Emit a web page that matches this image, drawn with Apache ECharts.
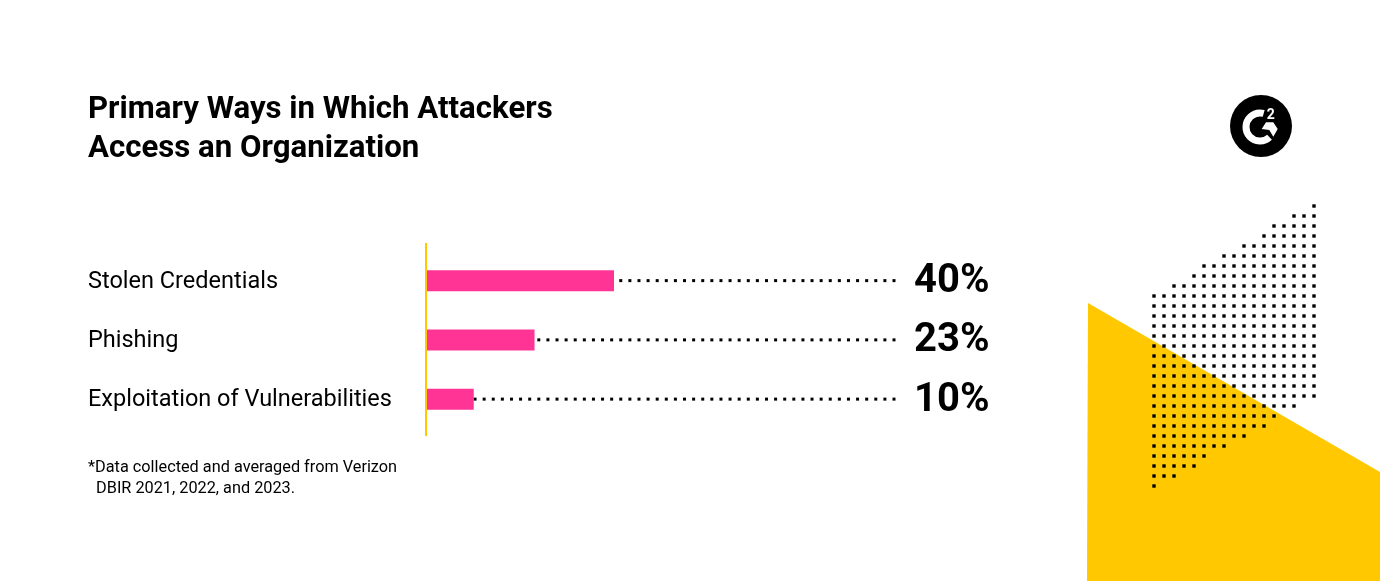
<!DOCTYPE html>
<html>
<head>
<meta charset="utf-8">
<style>
  html, body { margin: 0; padding: 0; background: #fff; }
  #main { width: 1380px; height: 581px; }
</style>
<script src="https://cdn.jsdelivr.net/npm/echarts@6/dist/echarts.min.js"></script>
</head>
<body>
<div id="main"></div>
<script>
const categories = ['Stolen Credentials', 'Phishing', 'Exploitation of Vulnerabilities']
const shares = [40, 23, 10]
const shareLabels = ['40%', '23%', '10%']
const leaderEnds = [100.5, 100.5, 100.5]

const PINK = '#ff3495'
const YELLOW = '#ffc800'
const FONT = 'Roboto'

const myChart = echarts.init(document.getElementById('main'), null, { renderer: 'canvas' })

// 背景の点: 平行四辺形の中だけ
function dotPattern () {
  const dots = []
  for (let x = 1154; x <= 1314; x += 10) {
    for (let y = 206; y <= 486; y += 10) {
      const top = 201.67 + (1314 - x) * 0.583
      const bottom = 488.67 - (x - 1154) * 0.5625
      if (y < top || y > bottom) continue
      dots.push({
        type: 'rect',
        z: 2,
        shape: { x: x - 1.7, y: y - 1.7, width: 3.4, height: 3.4 },
        style: { fill: '#000' }
      })
    }
  }
  return dots
}

const decorations = [
  {
    type: 'polygon',
    z: 1,
    shape: { points: [[1087, 581], [1088, 303], [1380, 472], [1380, 581]] },
    style: { fill: YELLOW }
  },
  ...dotPattern(),
  // 軸の線はグリッドより長い
  {
    type: 'rect',
    z: 5,
    shape: { x: 425, y: 243, width: 2, height: 193 },
    style: { fill: YELLOW }
  },
  // G2 logo
  { type: 'circle', z: 3, shape: { cx: 1261, cy: 126, r: 31 }, style: { fill: '#000' } },
  {
    type: 'arc',
    z: 4,
    shape: { cx: 1260, cy: 127, r: 14, startAngle: 0.82, endAngle: 4.98, clockwise: true },
    style: { stroke: '#fff', fill: null, lineWidth: 7 }
  },
  {
    type: 'polygon',
    z: 4,
    shape: { points: [[1261.7, 129], [1266, 122.3], [1273.3, 122.3], [1277.7, 129], [1273.3, 136.7], [1269.3, 130]] },
    style: { fill: '#fff' }
  },
  {
    type: 'text',
    z: 4,
    x: 1270.7,
    y: 115.7,
    style: { text: '2', fill: '#fff', font: 'bold 14px Roboto', align: 'center', verticalAlign: 'middle' }
  }
]

myChart.setOption({
  animation: false,
  backgroundColor: '#fff',
  title: [
    {
      text: 'Primary Ways in Which Attackers\nAccess an Organization',
      left: 83,
      top: 86,
      textStyle: { fontFamily: FONT, fontSize: 31.2, fontWeight: 700, color: '#000', lineHeight: 38.5 }
    },
    {
      text: '*Data collected and averaged from Verizon\n  DBIR 2021, 2022, and 2023.',
      left: 83,
      top: 452,
      textStyle: { fontFamily: FONT, fontSize: 16.3, fontWeight: 400, color: '#000', lineHeight: 21 }
    }
  ],
  graphic: decorations,
  grid: { left: 427, top: 251, width: 467.5, height: 177.75 },
  xAxis: { type: 'value', min: 0, max: 100, show: false },
  yAxis: [
    {
      type: 'category',
      inverse: true,
      data: categories,
      axisLine: { show: false },
      axisTick: { show: false },
      axisLabel: { align: 'left', verticalAlign: 'top', lineHeight: 2, margin: 339, fontFamily: FONT, fontSize: 23.5, color: '#000' }
    },
    {
      type: 'category',
      inverse: true,
      position: 'right',
      data: shareLabels,
      axisLine: { show: false },
      axisTick: { show: false },
      axisLabel: { verticalAlign: 'top', lineHeight: 3, margin: 19.5, fontFamily: FONT, fontSize: 40, fontWeight: 700, color: '#000' }
    }
  ],
  series: [
    {
      name: 'leader',
      type: 'pictorialBar',
      data: leaderEnds,
      symbol: 'rect',
      symbolSize: [3, 3],
      symbolRepeat: 52,
      symbolMargin: 3.09,
      symbolOffset: [1, 0],
      barGap: '-100%',
      barWidth: 21,
      silent: true,
      z: 2,
      itemStyle: { color: '#000' }
    },
    {
      name: 'share',
      type: 'bar',
      data: shares,
      barWidth: 21,
      barGap: '-100%',
      z: 3,
      itemStyle: { color: PINK }
    }
  ]
})
</script>
</body>
</html>
